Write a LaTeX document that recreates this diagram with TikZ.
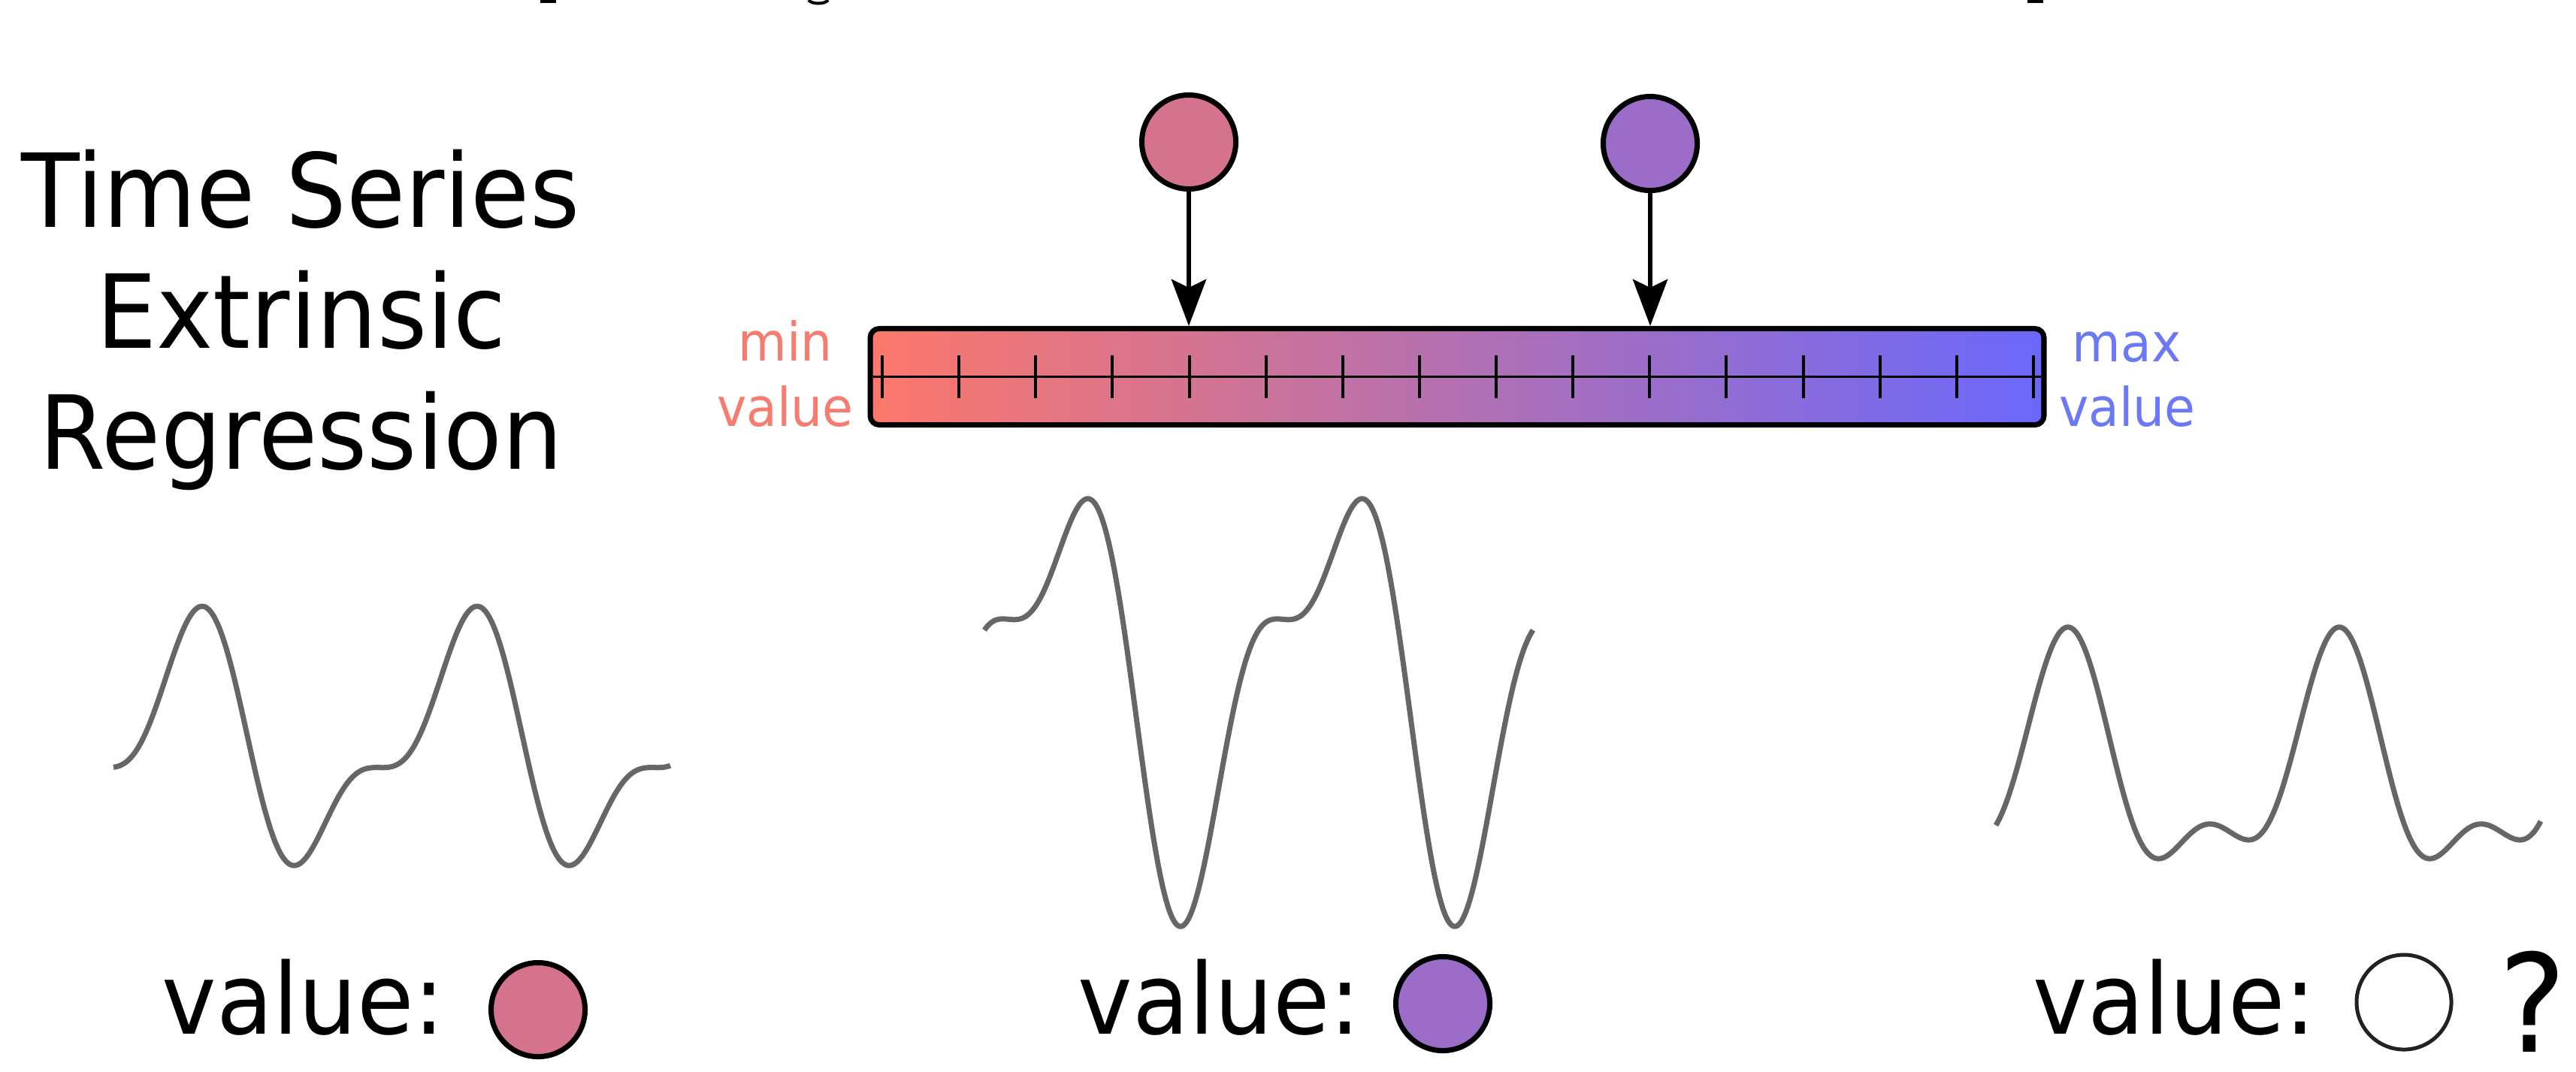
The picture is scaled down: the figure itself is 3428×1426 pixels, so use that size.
\documentclass[tikz,border=0pt]{standalone}
\usepackage{fontspec}
\setmainfont[FakeStretch=0.935]{DejaVu Sans}
\usetikzlibrary{arrows.meta}
\definecolor{gradL}{RGB}{252,120,106}
\definecolor{gradR}{RGB}{106,104,250}
\definecolor{pinkc}{RGB}{213,115,143}
\definecolor{purplec}{RGB}{155,109,200}
\definecolor{minc}{RGB}{247,124,112}
\definecolor{maxc}{RGB}{108,121,244}
\definecolor{seriesc}{RGB}{102,102,102}
\definecolor{hollowc}{RGB}{34,34,34}
\tikzset{
  titletext/.style={anchor=base, inner sep=0pt, font=\fontsize{38.7}{46}\selectfont},
  valtext/.style={anchor=base west, inner sep=0pt, font=\fontsize{37.3}{44}\selectfont},
  endlabel/.style={anchor=base, inner sep=0pt, font=\fontsize{20.2}{24}\selectfont},
  dot/.style={circle, draw=black, line width=0.07cm, minimum size=1.25cm, inner sep=0pt},
  hollowdot/.style={circle, draw=hollowc, line width=0.05cm, minimum size=1.26cm, inner sep=0pt, fill=white},
  series/.style={draw=seriesc, line width=0.07cm, line join=round},
  tickmark/.style={line width=0.04cm},
  pointer/.style={line width=0.065cm, -{Stealth[length=0.62cm, width=0.46cm, inset=0.11cm]}}
}
\begin{document}
\begin{tikzpicture}[x=0.01cm, y=-0.01cm]
\useasboundingbox (0,0) rectangle (3428,1426);
% cut-off fragments at the top edge
\fill (719,0) rectangle (740,4);
\fill (2698,0) rectangle (2719,4);
\draw[line width=0.04cm] (1076,0) .. controls (1080,6) and (1098,6) .. (1102,0);

% title
\node[titletext] (t1) at (400,302) {Time Series};
\node[titletext] (t2) at (401,463) {Extrinsic};
\node[titletext] (t3) at (401,624) {Regression};

% gradient bar
\node[draw=black, line width=0.07cm, rounded corners=0.12cm, minimum width=15.61cm, minimum height=1.28cm,
      inner sep=0pt, left color=gradL, right color=gradR] (bar) at (1939,501.5) {};
\draw[line width=0.035cm] ([xshift=0.07cm]bar.west) -- ([xshift=-0.07cm]bar.east);
\foreach \i in {0,...,15} {
  \draw[tickmark] ({1174+102.13*\i},473) -- ++(0,57);
}
\node[endlabel, text=minc] (minl1) at (1045,480) {min};
\node[endlabel, text=minc] (minl2) at (1045,567) {value};
\node[endlabel, text=maxc] (maxl1) at (2830,481) {max};
\node[endlabel, text=maxc] (maxl2) at (2831,567) {value};

% top circles and arrows
\node[dot, fill=pinkc] (c1) at (1582,189) {};
\node[dot, fill=purplec] (c2) at (2196,191) {};
\draw[pointer] (c1) -- (c1 |- bar.north);
\draw[pointer] (c2) -- (c2 |- bar.north);

% time series
\draw[series] plot[domain=151:892, samples=300, smooth]
  (\x, {979.5 - 132.2*( sin(56.1-(\x-269)*0.98361) + 0.5*sin(2*(56.1-(\x-269)*0.98361)) + 0.213*(cos(56.1-(\x-269)*0.98361) - 0.5) )});
\draw[series] plot[domain=1310:2040, samples=300, smooth]
  (\x, {949 - 215.6*( sin(67.96-(\x-1448)*0.98630) + 0.5*sin(2*(67.96-(\x-1448)*0.98630)) - 0.387*(cos(67.96-(\x-1448)*0.98630) - 0.5) )});
\draw[series] plot[domain=2656:3381, samples=300, smooth]
  (\x, {835 + 131.3*( 1.5 - ( cos((\x-2754)*0.99723) + 0.5*cos(2*(\x-2754)*0.99723) - 0.11*sin((\x-2754)*0.99723) ) )});

% bottom labels
\node[valtext] (v1) at (215,1376) {value:};
\node[dot, fill=pinkc] (d1) at (716,1344) {};
\node[valtext] (v2) at (1434,1376) {value:};
\node[dot, fill=purplec] (d2) at (1920,1336) {};
\node[valtext] (v3) at (2705,1376) {value:};
\node[hollowdot] (d3) at (3199,1334) {};
\node[anchor=base west, inner sep=0pt, font=\fontsize{51.5}{60}\selectfont] (q) at (3325,1400) {?};
\end{tikzpicture}
\end{document}
